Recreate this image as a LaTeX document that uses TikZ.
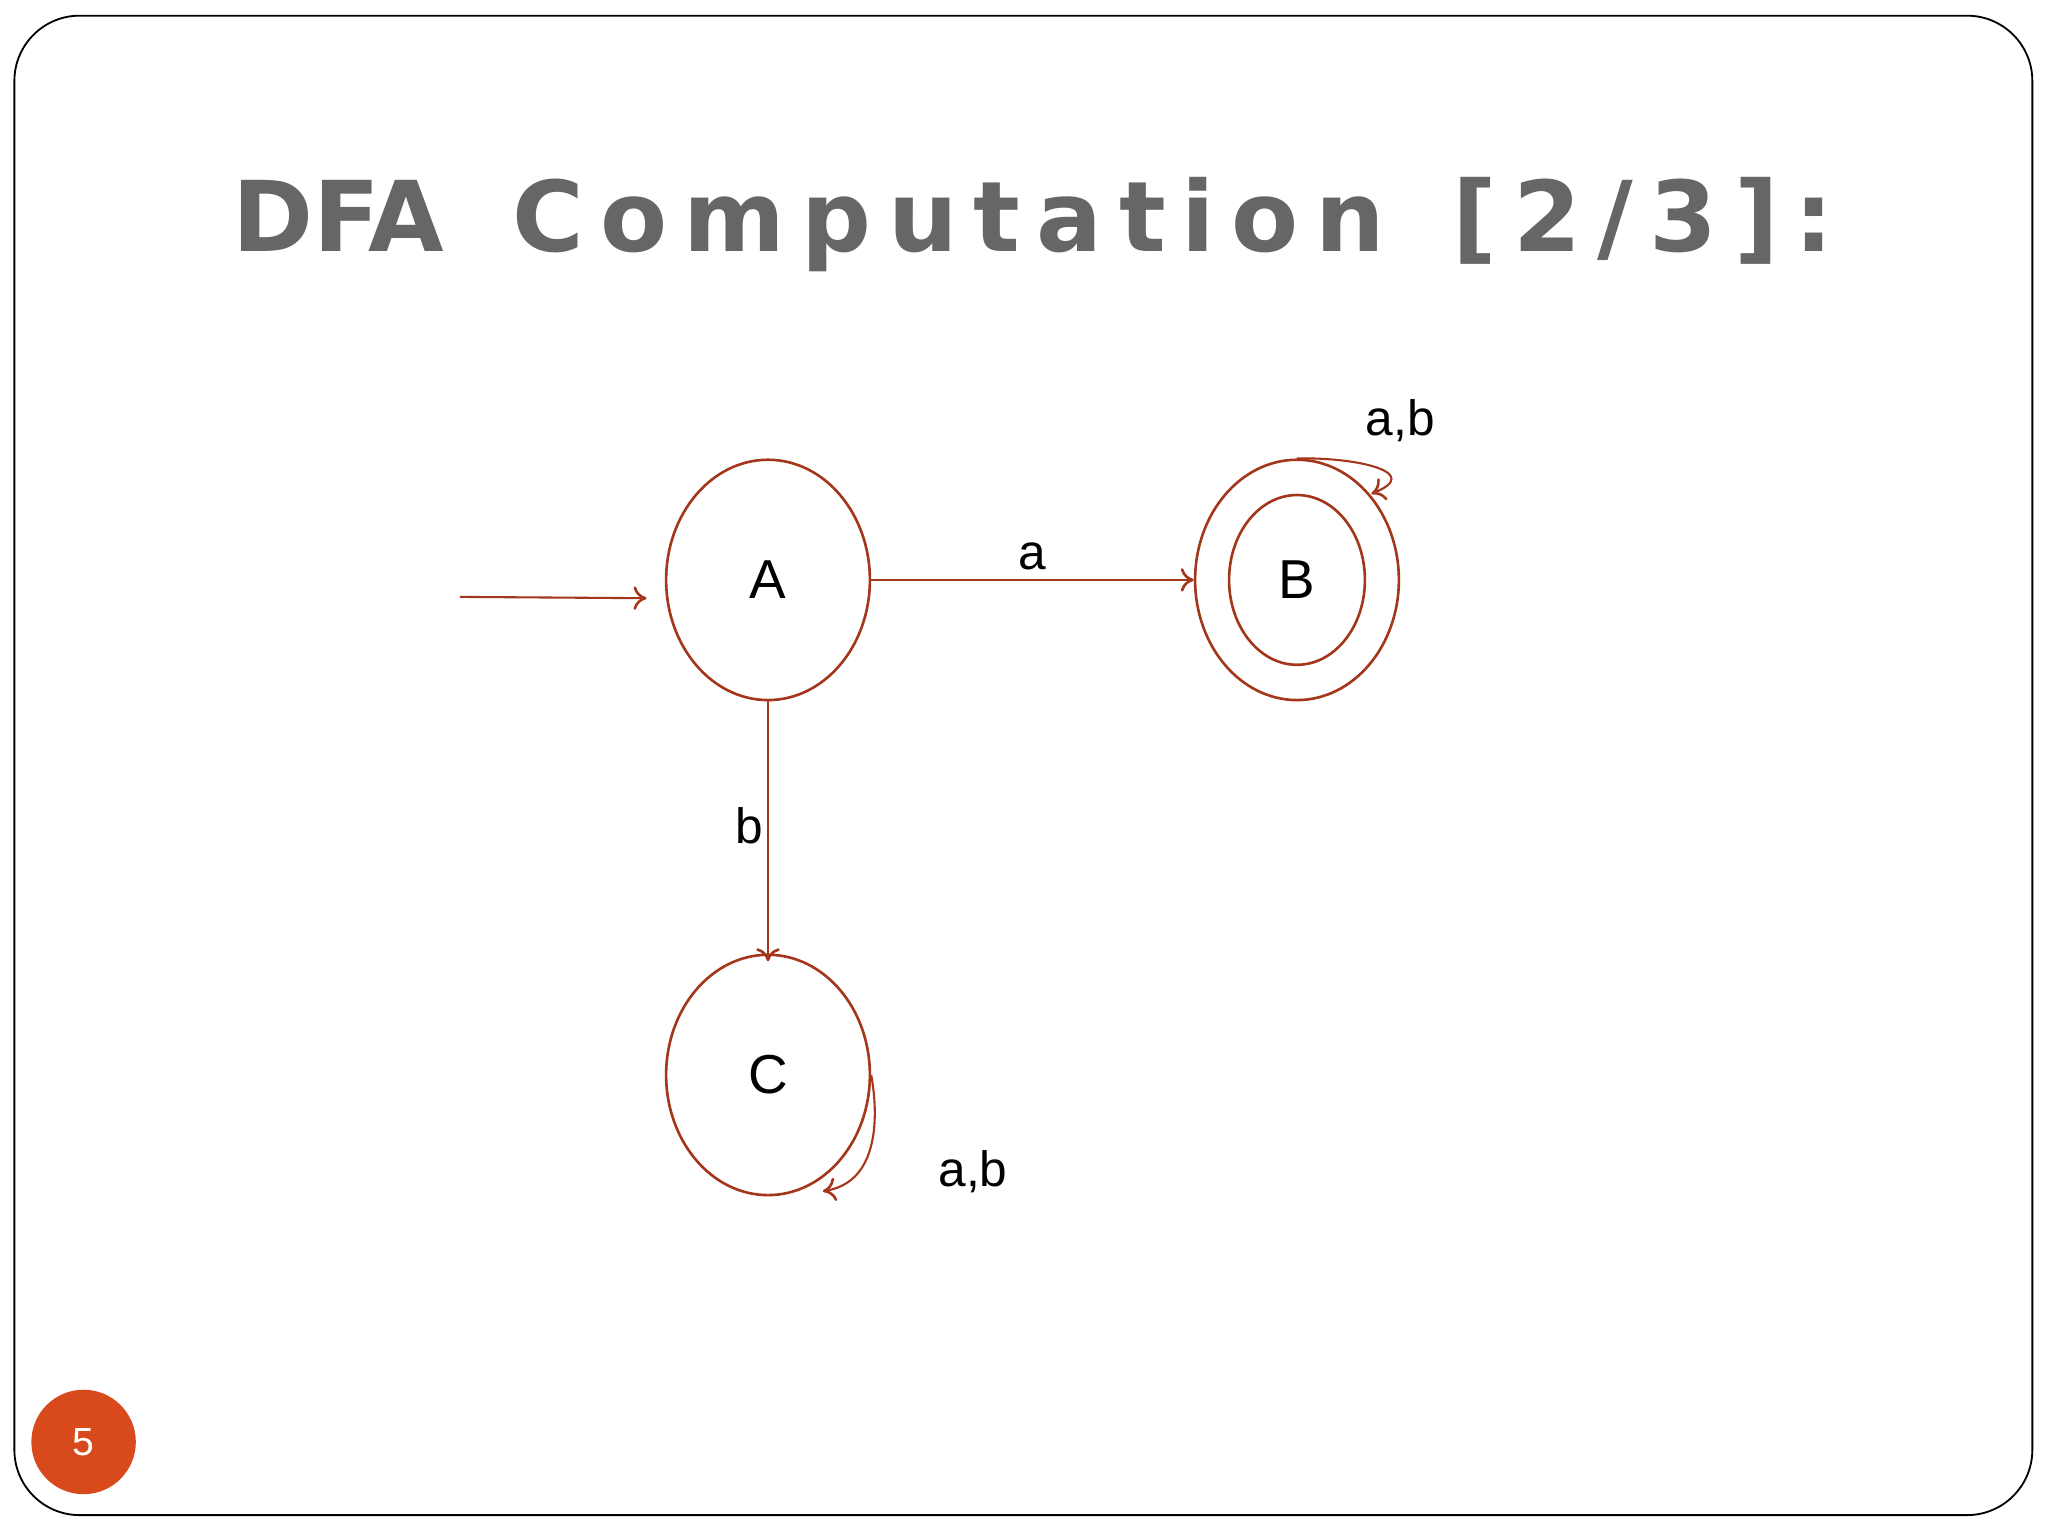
\documentclass[tikz,border=0pt]{standalone}
\usepackage{fontspec}
\setmainfont{Liberation Sans}
\newfontfamily\titlefont{DejaVu Sans}
\usetikzlibrary{arrows.meta,shapes.geometric}
\definecolor{edge}{HTML}{A3361B}
\definecolor{pnum}{HTML}{D84A1B}
\definecolor{ttl}{HTML}{666666}
\tikzset{
  px/.style={x=0.5pt,y=-0.5pt},
  st/.style={draw=edge,line width=1pt,ellipse,minimum width=78pt,minimum height=92pt,inner sep=0pt,font=\fontsize{21}{24}\selectfont},
  tr/.style={draw=edge,line width=0.8pt,-{To[length=5pt,width=9pt,line width=1pt]}},
  lbl/.style={font=\fontsize{19}{22}\selectfont}
}
\begin{document}
\begin{tikzpicture}[px]
\useasboundingbox (0,0) rectangle (1568,1176);
\fill[white] (0,0) rectangle (1568,1176);
\draw[line width=0.7pt,rounded corners=25pt] (11,12) rectangle (1556,1160);
\node[text=ttl,font=\titlefont\bfseries] (title) at (791,172) {\resizebox{613pt}{!}{DFA\ \ C\,o\,m\,p\,u\,t\,a\,t\,i\,o\,n\ \ [\,2\,/\,3\,]\,:}};
\node[st] (A) at (588,444) {A};
\node[st] (B) at (993,444) {};
\node[st,minimum width=52pt,minimum height=65pt] (Bi) at (993,444) {\raisebox{-3pt}{B}};
\node[st] (C) at (588,823) {C};
\coordinate (s) at (352,457);
\coordinate (sA) at (495,458);
\draw[tr] (s) -- (sA);
\draw[tr] (A.east) -- (B.west) node[lbl,midway,above=0pt] {a};
\draw[tr] (A.south) -- ([yshift=-3pt]C.north) node[lbl,pos=0.48,left=-2pt] {b};
\draw[tr] (B.north) .. controls (1040,350) and (1090,362) .. (1050,378);
\node[lbl] (lb) at (1072,322) {a,b};
\draw[tr] (C.east) .. controls (672,850) and (675,905) .. (630,912);
\node[lbl] (lc) at (745,897) {a,b};
\node[circle,fill=pnum,minimum size=40pt,text=white,font=\fontsize{15}{18}\selectfont] (pg) at (64,1104) {5};
\end{tikzpicture}
\end{document}
